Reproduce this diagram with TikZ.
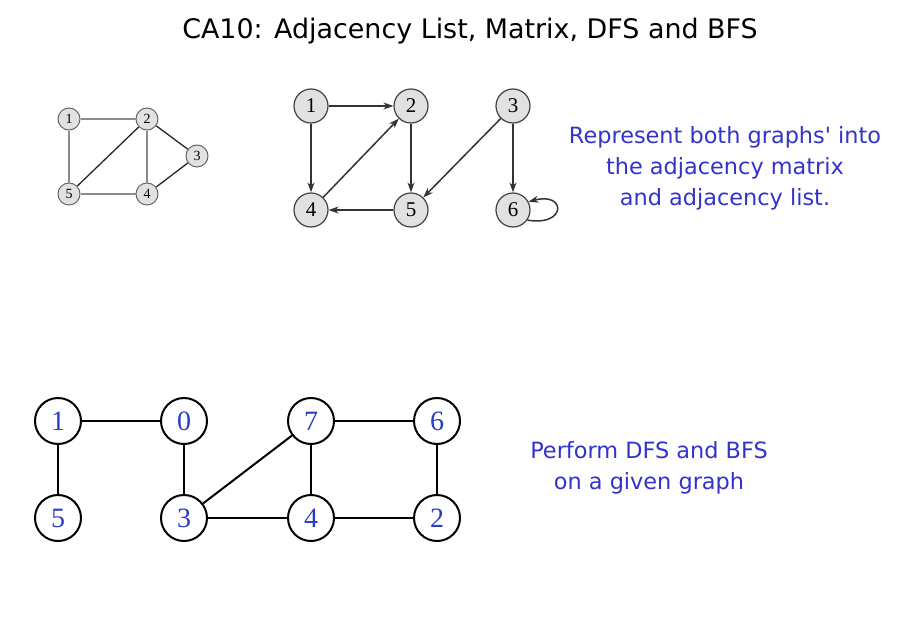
\documentclass[tikz,border=0pt]{standalone}
\usepackage{fontspec}
\setmainfont{DejaVu Sans}
\newfontfamily\numfont{Liberation Serif}
\newfontfamily\titlefont{DejaVu Sans}
\usetikzlibrary{arrows.meta}

\definecolor{txtblue}{RGB}{51,51,204}
\definecolor{numblue}{RGB}{40,60,200}
\definecolor{nodegray}{RGB}{225,225,225}

\tikzset{
    smallv/.style={circle,draw=black!60,line width=1pt,fill=nodegray,inner sep=0pt,minimum size=22pt,font=\numfont\fontsize{14}{14}\selectfont},
    midv/.style={circle,draw=black!75,line width=1.2pt,fill=nodegray,inner sep=0pt,minimum size=34pt,font=\numfont\fontsize{21}{21}\selectfont},
    bigv/.style={circle,draw=black,line width=2pt,inner sep=0pt,minimum size=46pt,text=numblue,font=\numfont\fontsize{28}{28}\selectfont},
    arc/.style={-{Stealth[length=10pt,width=7pt]},line width=1.5pt,black!80},
    note/.style={text=txtblue,align=center,font=\fontsize{22.4}{31}\selectfont}
}

\begin{document}
\begin{tikzpicture}[x=1pt,y=-1pt]
    \useasboundingbox (0,0) rectangle (899,634);

    \node[font=\titlefont\fontsize{26.9}{27}\selectfont] (title) at (470,31) {CA10: Adjacency List, Matrix, DFS and BFS};

    % undirected graph
    \node[smallv] (a1) at (69,119) {1};
    \node[smallv] (a2) at (147,119) {2};
    \node[smallv] (a3) at (197,156) {3};
    \node[smallv] (a4) at (147,194) {4};
    \node[smallv] (a5) at (69,194) {5};

    \foreach \u/\v in {a1/a2,a1/a5,a5/a4,a2/a4}{
        \draw[black!45,line width=1.1pt] (\u) -- (\v);
    }
    \foreach \u/\v in {a2/a5,a2/a3,a3/a4}{
        \draw[black!85,line width=1.3pt] (\u) -- (\v);
    }

    % directed graph
    \node[midv] (b1) at (311,106) {1};
    \node[midv] (b2) at (411,106) {2};
    \node[midv] (b3) at (513,106) {3};
    \node[midv] (b4) at (311,210) {4};
    \node[midv] (b5) at (411,210) {5};
    \node[midv] (b6) at (513,210) {6};

    \foreach \u/\v in {b1/b2,b1/b4,b4/b2,b2/b5,b3/b5,b3/b6,b5/b4}{
        \draw[arc] (\u) -- (\v);
    }
    \draw[arc] (b6.-35) to[out=-10,in=15,looseness=5.5] (b6.28);

    \node[note] (task1) at (725,168) {Represent both graphs\textquotesingle{} into\\the adjacency matrix\\ and adjacency list.};

    % graph for DFS / BFS
    \node[bigv] (c1) at (58,421) {1};
    \node[bigv] (c0) at (184,421) {0};
    \node[bigv] (c7) at (311,421) {7};
    \node[bigv] (c6) at (437,421) {6};
    \node[bigv] (c5) at (58,518) {5};
    \node[bigv] (c3) at (184,518) {3};
    \node[bigv] (c4) at (311,518) {4};
    \node[bigv] (c2) at (437,518) {2};

    \foreach \u/\v in {c1/c0,c1/c5,c0/c3,c3/c7,c3/c4,c7/c4,c7/c6,c6/c2,c4/c2}{
        \draw[line width=2pt] (\u) -- (\v);
    }

    \node[note] (task2) at (649,468) {Perform DFS and BFS\\on a given graph};

\end{tikzpicture}
\end{document}
